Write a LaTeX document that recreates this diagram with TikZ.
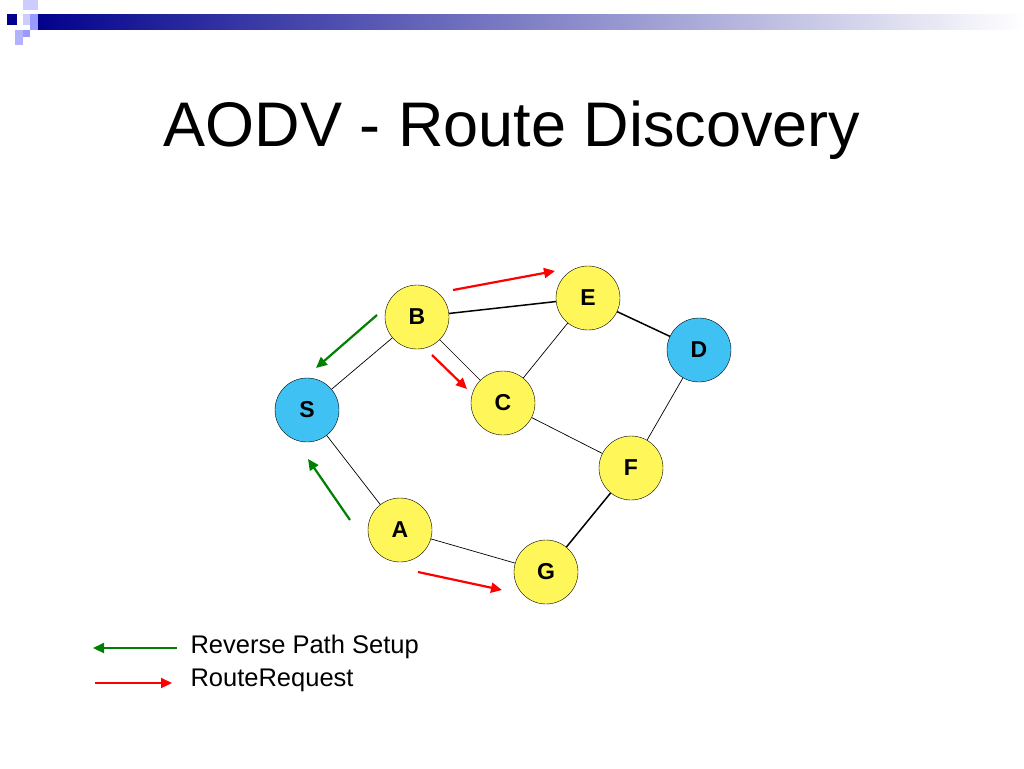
\documentclass[tikz,border=0pt]{standalone}
\usepackage{fontspec}
\setmainfont{Liberation Sans}
\usetikzlibrary{arrows.meta}
\begin{document}
\begin{tikzpicture}[x=1pt,y=-1pt,
  nd/.style={circle,draw=black,fill=yellow!65!white,minimum size=64pt,inner sep=0pt,font=\fontsize{23}{24}\selectfont\bfseries},
  bl/.style={nd,fill=cyan!75!white},
  thin edge/.style={draw=black,line width=0.7pt},
  thick edge/.style={draw=black,line width=1.5pt},
  ra/.style={draw=red,line width=2.2pt,-{Triangle[length=11pt,width=10pt]}},
  ga/.style={draw=green!50!black,line width=2.2pt,-{Triangle[length=11pt,width=10pt]}}]
\useasboundingbox (0,0) rectangle (1024,768);
\shade[left color=blue!55!black,right color=white] (30,15) rectangle (1024,30);
\fill[blue!55!black] (7,14) rectangle (17,25);
\fill[blue!20!white] (23,0) rectangle (30,10);
\fill[blue!20!white] (23,14) rectangle (30,25);
\fill[blue!40!white] (30,14) rectangle (38,30);
\fill[blue!30!white] (15,30) rectangle (23,45);
\fill[blue!40!white] (23,30) rectangle (30,37);
\fill[blue!20!white] (30,0) rectangle (38,10);
\node (title) at (512,130) {\fontsize{63}{72}\selectfont AODV - Route Discovery};
\node[nd] (B) at (417,317) {B};
\node[nd] (E) at (588,298) {E};
\node[bl] (D) at (699,350) {D};
\node[bl] (S) at (307,410) {S};
\node[nd] (C) at (503,403) {C};
\node[nd] (F) at (631,468) {F};
\node[nd] (A) at (400,530) {A};
\node[nd] (G) at (546,572) {G};
\path[thin edge] (S)--(B) (B)--(C) (E)--(C) (C)--(F) (D)--(F) (S)--(A) (A)--(G);
\path[thick edge] (B)--(E) (E)--(D) (G)--(F);
\coordinate (r1a) at (453,290); \coordinate (r1b) at (555,271);
\coordinate (g1a) at (377,315); \coordinate (g1b) at (316,368);
\coordinate (r2a) at (432,355); \coordinate (r2b) at (467,389);
\coordinate (g2a) at (350,520); \coordinate (g2b) at (308,459);
\coordinate (r3a) at (418,572); \coordinate (r3b) at (502,590);
\coordinate (lg1a) at (177,648); \coordinate (lg1b) at (93,648);
\coordinate (lr1a) at (95,683); \coordinate (lr1b) at (172,683);
\draw[ra] (r1a)--(r1b); \draw[ra] (r2a)--(r2b); \draw[ra] (r3a)--(r3b);
\draw[ga] (g1a)--(g1b); \draw[ga] (g2a)--(g2b);
\draw[ga] (lg1a)--(lg1b); \draw[ra] (lr1a)--(lr1b);
\node[anchor=west,font=\fontsize{25.5}{27}\selectfont] (l1) at (187,647) {Reverse Path Setup};
\node[anchor=west,font=\fontsize{25.5}{27}\selectfont] (l2) at (187,680) {RouteRequest};
\end{tikzpicture}
\end{document}
